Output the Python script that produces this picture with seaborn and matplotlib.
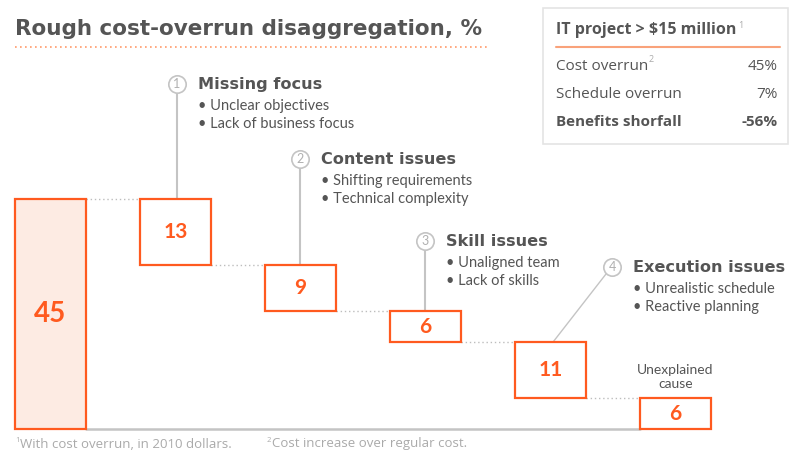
import matplotlib
matplotlib.use("Agg")
import matplotlib.pyplot as plt
import seaborn as sns
import pandas as pd

# data
categories = ["Total", "Missing focus", "Content issues", "Skill issues",
              "Execution issues", "Unexplained cause"]
values = [45, 13, 9, 6, 11, 6]
headings = ["Missing focus", "Content issues", "Skill issues", "Execution issues"]
bullets = [["Unclear objectives", "Lack of business focus"],
           ["Shifting requirements", "Technical complexity"],
           ["Unaligned team", "Lack of skills"],
           ["Unrealistic schedule", "Reactive planning"]]
box_title = "IT project > $15 million"
box_rows = ["Cost overrun", "Schedule overrun", "Benefits shorfall"]
box_values = ["45%", "7%", "-56%"]
footnotes = ["With cost overrun, in 2010 dollars.", "Cost increase over regular cost."]

ORANGE = "#ff5a1f"
LIGHT = "#fdebe3"
DARK = "#555555"
GRAY = "#c4c4c4"
FONT = "Lato"
HEADFONT = "DejaVu Sans"
BOXFONT = "Open Sans"

W, H = 800, 467
X0, DX = 50.5, 125.0     # pixel centre of first bar, spacing
Y0, DY = 429.0, 230 / 45  # pixel baseline, px per unit


def dx(px):
    return (px - X0) / DX


def dy(py):
    return (Y0 - py) / DY


def fx(px):
    return px / W


def fy(py):
    return 1 - py / H


def main():
    # waterfall bottoms
    bottoms = [0]
    top = values[0]
    for v in values[1:]:
        bottoms.append(top - v)
        top = top - v
    df = pd.DataFrame({"cat": categories, "val": values, "bottom": bottoms})

    sns.set_style("white")
    plt.rcParams["font.family"] = [FONT, "DejaVu Sans"]
    fig = plt.figure(figsize=(8, 4.67), dpi=100)
    ax = fig.add_axes([0, 0, 1, 1])

    sns.barplot(data=df, x="cat", y="val", order=categories, bottom=df["bottom"].values,
                color="white", edgecolor=ORANGE, linewidth=1.6, width=0.57,
                errorbar=None, ax=ax, zorder=3)
    ax.patches[0].set_facecolor(LIGHT)

    ax.set_xlim(dx(0), dx(W))
    ax.set_ylim(dy(H), dy(0))
    ax.axis("off")

    hw = 0.57 / 2
    n = len(values)
    # baseline
    ax.plot([0 + hw, n - 1 - hw], [0, 0], color=GRAY, lw=1.8, zorder=1)
    # dotted connectors
    levels = [values[0]] + bottoms[1:]
    for i in range(n - 1):
        ax.plot([i + hw, i + 1 - hw], [levels[i], levels[i]], color="#bdbdbd",
                lw=1, ls=(0, (1, 2)), zorder=1)

    # value labels
    for i, (v, b) in enumerate(zip(values, bottoms)):
        ax.text(i, b + v / 2, str(v), ha="center", va="center", color=ORANGE,
                fontsize=20 if i == 0 else 15, fontweight="bold", zorder=4)

    # annotations: circle pixel position, heading start
    circles = [(177, 84), (300, 159), (425, 241), (612, 267)]
    for k, (cx, cy) in enumerate(circles):
        bar = k + 1
        if k < 3:
            ax.plot([dx(cx), dx(cx)], [dy(cy + 9), levels[bar - 1]],
                    color=GRAY, lw=1.5, zorder=1)
        else:
            ax.plot([dx(cx - 6), bar + 0.02], [dy(cy + 7), levels[bar - 1]],
                    color=GRAY, lw=1, zorder=1)
        ax.plot(dx(cx), dy(cy), marker="o", ms=12.5, mfc="white", mec=GRAY, mew=1.2, zorder=2)
        ax.text(dx(cx), dy(cy), str(k + 1), ha="center", va="center",
                color="#b0b0b0", fontsize=9, zorder=3)
        tx = cx + 21
        fig.text(fx(tx), fy(cy + 1), headings[k], ha="left", va="center",
                 color=DARK, fontsize=11.6, fontweight="bold", family=HEADFONT)
        for j, b in enumerate(bullets[k]):
            fig.text(fx(tx), fy(cy + 22 + 18 * j), "\u2022 " + b, ha="left",
                     va="center", color=DARK, fontsize=10.5)

    ax.text(n - 1, dy(377), "Unexplained\ncause", ha="center", va="center",
            color=DARK, fontsize=10, linespacing=1.1)

    # title
    fig.text(fx(15), fy(29), "Rough cost-overrun disaggregation, %", ha="left",
             va="center", color=DARK, fontsize=15.5, fontweight="bold", family=HEADFONT)
    fig.add_artist(plt.Line2D([fx(15), fx(487)], [fy(47), fy(47)], color="#ff9a6a",
                              lw=1.2, ls=(0, (1, 2))))

    # info box
    fig.add_artist(plt.Rectangle((fx(543), fy(144)), fx(788) - fx(543), fy(8) - fy(144),
                                 fill=False, edgecolor="#e4e4e4", lw=1.2))
    fig.text(fx(556), fy(30), box_title, ha="left", va="center", color=DARK,
             fontsize=11.5, fontweight="bold", family=BOXFONT)
    fig.text(fx(738), fy(25), "1", ha="left", va="center", color="#aaaaaa",
             fontsize=6.5, family=BOXFONT)
    fig.add_artist(plt.Line2D([fx(556), fx(780)], [fy(47), fy(47)], color="#f9a27a", lw=1.5))
    for j, (r, v) in enumerate(zip(box_rows, box_values)):
        y = 66 + 28 * j
        wt = "bold" if j == 2 else "normal"
        fig.text(fx(556), fy(y), r, ha="left", va="center", color=DARK,
                 fontsize=11, fontweight=wt, family=BOXFONT)
        fig.text(fx(778), fy(y), v, ha="right", va="center", color=DARK,
                 fontsize=11, fontweight=wt, family=BOXFONT)
    fig.text(fx(649), fy(60), "2", ha="left", va="center", color="#aaaaaa",
             fontsize=6.5, family=BOXFONT)

    # footnotes
    for k, (x, t) in enumerate(zip([15, 267], footnotes)):
        fig.text(fx(x), fy(441), str(k + 1), ha="left", va="center", color="#aaaaaa",
                 fontsize=5.5, family=BOXFONT)
        fig.text(fx(x + 5), fy(444), t, ha="left", va="center", color="#aaaaaa",
                 fontsize=9.5, family=BOXFONT)

    fig.savefig("out.png", dpi=100, facecolor="white")


if __name__ == "__main__":
    main()
